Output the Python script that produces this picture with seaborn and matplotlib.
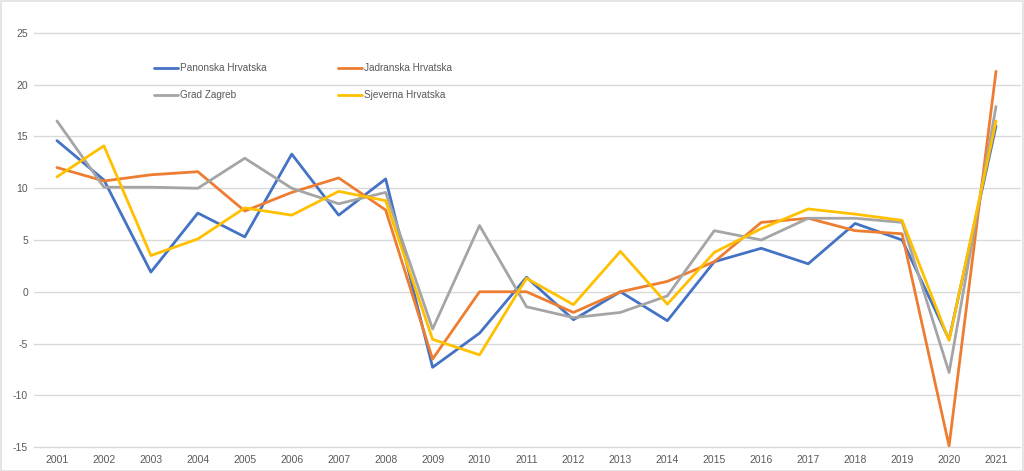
import matplotlib
matplotlib.use("Agg")
import matplotlib.pyplot as plt
from matplotlib.lines import Line2D
from matplotlib.patches import Rectangle
import seaborn as sns
import pandas as pd

years = [str(y) for y in range(2001, 2022)]
panonska = [14.6, 10.8, 1.9, 7.6, 5.3, 13.3, 7.4, 10.9, -7.3, -4.0, 1.4, -2.7, 0.0, -2.8, 2.9, 4.2, 2.7, 6.6, 5.0, -4.6, 16.0]
jadranska = [12.0, 10.7, 11.3, 11.6, 7.8, 9.6, 11.0, 7.9, -6.5, 0.0, 0.0, -2.0, 0.0, 1.0, 2.9, 6.7, 7.1, 5.9, 5.6, -14.9, 21.3]
zagreb = [16.5, 10.1, 10.1, 10.0, 12.9, 10.0, 8.5, 9.6, -3.6, 6.4, -1.45, -2.5, -2.0, -0.4, 5.9, 5.0, 7.1, 7.1, 6.7, -7.8, 17.9]
sjeverna = [11.1, 14.1, 3.5, 5.1, 8.1, 7.4, 9.7, 8.8, -4.6, -6.1, 1.3, -1.25, 3.9, -1.2, 3.8, 6.1, 8.0, 7.5, 6.9, -4.7, 16.5]

series_names = ["Panonska Hrvatska", "Jadranska Hrvatska", "Grad Zagreb", "Sjeverna Hrvatska"]
series_values = [panonska, jadranska, zagreb, sjeverna]
colors = ["#4472C4", "#ED7D31", "#A5A5A5", "#FFC000"]
yticks = [-15, -10, -5, 0, 5, 10, 15, 20, 25]

rows = []
for name, vals in zip(series_names, series_values):
    for i, (yr, v) in enumerate(zip(years, vals)):
        rows.append({"idx": i, "year": yr, "value": v, "series": name})
df = pd.DataFrame(rows)

sns.set_theme(style="white")
plt.rcParams["font.family"] = ["Liberation Sans", "DejaVu Sans"]

fig = plt.figure(figsize=(10.24, 4.71), dpi=100)
ax = fig.add_axes([33.5 / 1024, 24 / 471, (1019.5 - 33.5) / 1024, (447 - 33) / 471])

sns.lineplot(data=df, x="idx", y="value", hue="series", hue_order=series_names,
             palette=colors, linewidth=2.0, ax=ax, legend=False)

ax.set_xlim(-0.5, len(years) - 0.5)
ax.set_ylim(-15, 25)
ax.set_xticks(range(len(years)))
ax.set_xticklabels(years)
ax.set_yticks(yticks)
ax.set_yticklabels([str(t) for t in yticks])
ax.grid(axis="y", color="#D9D9D9", linewidth=1.0)
for gl in ax.get_ygridlines():
    gl.set_clip_on(False)
ax.set_axisbelow(True)
for s in ax.spines.values():
    s.set_visible(False)
ax.tick_params(axis="both", length=0, labelsize=7.5, labelcolor="#595959", pad=6)
ax.tick_params(axis="y", pad=4)
ax.set_xlabel("")
ax.set_ylabel("")

order = ["Panonska Hrvatska", "Grad Zagreb", "Jadranska Hrvatska", "Sjeverna Hrvatska"]
handles = [Line2D([0], [0], color=colors[series_names.index(n)], linewidth=2.0) for n in order]
leg = fig.legend(handles, order, loc="upper left", bbox_to_anchor=(154 / 1024, 1 - 63 / 471),
                 ncol=2, frameon=False, fontsize=7.2, handlelength=2.4, handletextpad=0.15,
                 columnspacing=7.2, labelspacing=1.75, borderpad=0, borderaxespad=0)
for t in leg.get_texts():
    t.set_color("#595959")

fig.patches.append(Rectangle((0.5 / 1024, 0.5 / 471), 1 - 1.5 / 1024, 1 - 1.5 / 471,
                             transform=fig.transFigure, fill=False,
                             edgecolor="#E0E0E0", linewidth=1.2))

fig.savefig("out.png", dpi=100, facecolor="white")
